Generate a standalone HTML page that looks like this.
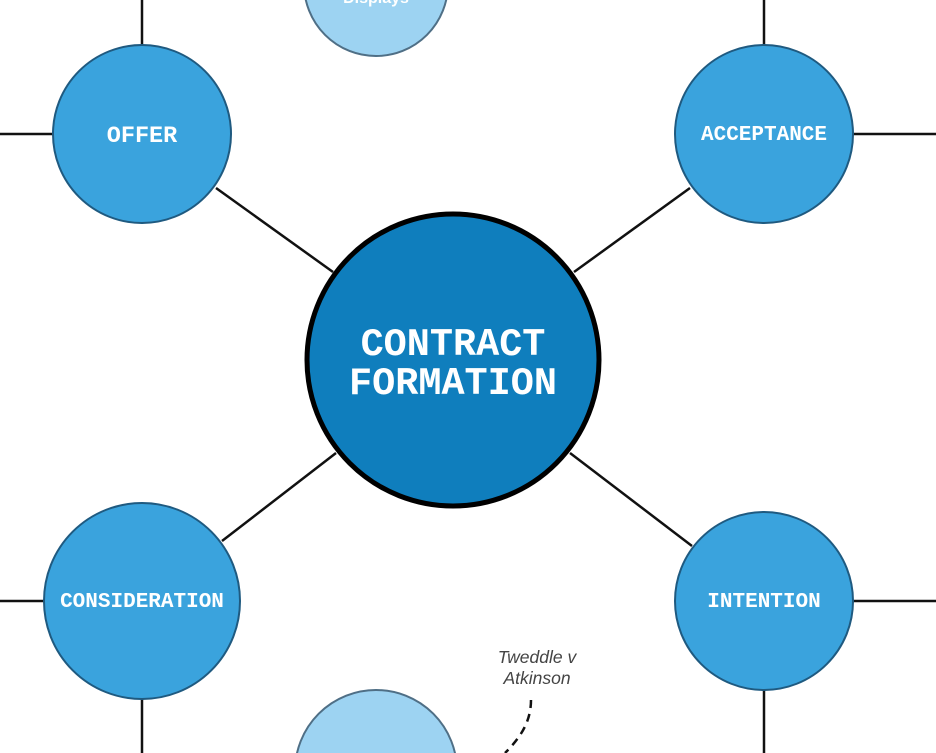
<!DOCTYPE html>
<html><head><style>html,body{margin:0;background:#fff;width:936px;height:753px;overflow:hidden;}svg{display:block}</style></head><body>
<svg width="936" height="753" viewBox="0 0 936 753" xmlns="http://www.w3.org/2000/svg">
<g stroke="#111" stroke-width="2.5">
<line x1="142" y1="0" x2="142" y2="45"/><line x1="0" y1="134" x2="53" y2="134"/>
<line x1="764" y1="0" x2="764" y2="45"/><line x1="853" y1="134" x2="936" y2="134"/>
<line x1="0" y1="601" x2="44" y2="601"/><line x1="142" y1="699" x2="142" y2="753"/>
<line x1="853" y1="601" x2="936" y2="601"/><line x1="764" y1="690" x2="764" y2="753"/>
<line x1="216" y1="188" x2="333" y2="272"/><line x1="690" y1="188" x2="574" y2="272"/>
<line x1="222" y1="541" x2="336" y2="453"/><line x1="692" y1="546" x2="570" y2="453"/>
</g>
<path d="M531 700 C531 722 520 738 505 753" fill="none" stroke="#111" stroke-width="2.5" stroke-dasharray="8,6"/>
<g stroke="#1f5a80" stroke-width="2" fill="#3aa3dd">
<circle cx="142" cy="134" r="89"/><circle cx="764" cy="134" r="89"/>
<circle cx="142" cy="601" r="98"/><circle cx="764" cy="601" r="89"/>
</g>
<g stroke="#4f6f86" stroke-width="2" fill="#9dd3f2">
<circle cx="376" cy="-16" r="72"/><circle cx="376" cy="771" r="81"/>
</g>
<circle cx="453" cy="360" r="146" fill="#0f7ebd" stroke="#000" stroke-width="5"/>
<g fill="#fff" font-family="Liberation Mono, monospace" font-weight="bold" text-anchor="middle">
<text x="142" y="142" font-size="23.5">OFFER</text>
<text x="764" y="140" font-size="21">ACCEPTANCE</text>
<text x="142" y="607" font-size="21">CONSIDERATION</text>
<text x="764" y="607" font-size="21">INTENTION</text>
<text x="453" y="355" font-size="38.5">CONTRACT</text>
<text x="453" y="394" font-size="38.5">FORMATION</text>
</g>
<text x="376" y="3" fill="#fff" font-family="Liberation Sans, sans-serif" font-weight="bold" font-size="16" text-anchor="middle">Displays</text>
<g fill="#444" font-family="Liberation Sans, sans-serif" font-style="italic" font-size="17.5" text-anchor="middle">
<text x="537" y="663">Tweddle v</text><text x="537" y="684">Atkinson</text>
</g>
</svg>
</body></html>
